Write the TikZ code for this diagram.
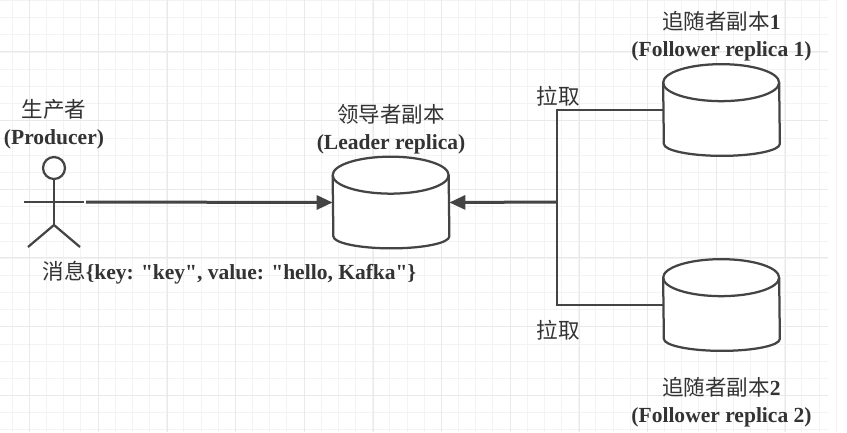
\documentclass[tikz,border=0pt]{standalone}
\usepackage{fontspec}
\setmainfont[Ligatures=TeXOff]{Liberation Serif}
\newfontfamily\cjk{Noto Sans CJK SC}
\usetikzlibrary{arrows.meta}
\definecolor{inkgray}{HTML}{444444}
\definecolor{gridminor}{HTML}{F3F3F3}
\definecolor{gridmajor}{HTML}{E9E9E9}
\tikzset{
	replica/.style={rectangle, minimum width=23.2mm, minimum height=18.2mm, inner sep=0pt},
	drum/.style={draw=inkgray, line width=0.45mm},
	caption/.style={align=center, inner sep=0pt, font=\fontsize{12.25}{15.4}\selectfont, text=black!80},
	actorline/.style={inkgray, line width=0.45mm},
	link/.style={inkgray, line width=0.45mm},
	push/.style={inkgray, line width=0.6mm, -{Triangle[length=3.2mm,width=2.8mm]}},
}
\begin{document}
\begin{tikzpicture}[x=0.2mm,y=-0.2mm]
	\useasboundingbox (0,0) rectangle (847,432);
	\fill[white] (0,0) rectangle (847,432);

%% Grid
	\foreach \i in {0,...,48}
		\draw[gridminor] ({12+17.17*\i},0)--({12+17.17*\i},432);
	\foreach \i in {0,...,25}
		\draw[gridminor] (0,{0.5+17.17*\i})--(828,{0.5+17.17*\i});
	\foreach \i in {0,...,11}
		\draw[gridmajor] ({29.5+68.7*\i},0)--({29.5+68.7*\i},432);
	\foreach \i in {0,...,6}
		\draw[gridmajor] (0,{51.5+68.7*\i})--(828,{51.5+68.7*\i});

%% Replicas
	\node[replica] (leader) at (391,202.5) {};
	\node[replica] (follower1) at (721.5,110) {};
	\node[replica] (follower2) at (721.5,305) {};
	\foreach \name in {leader,follower1,follower2} {
		\draw[drum, fill=white] ([yshift=-3.7mm]\name.north west)
			arc[start angle=180, end angle=0, x radius=11.6mm, y radius=3.7mm]
			-- ([yshift=2.4mm]\name.south east)
			arc[start angle=360, end angle=180, x radius=11.6mm, y radius=2.4mm]
			-- cycle;
		\draw[drum] ([yshift=-3.7mm]\name.north west)
			arc[start angle=180, end angle=360, x radius=11.6mm, y radius=3.7mm];
	}

%% Producer
	\node[draw=inkgray, circle, line width=0.45mm, minimum size=4.4mm, inner sep=0pt] (head) at (54,168) {};
	\coordinate (hip) at (54,225);
	\coordinate (armleft) at (24,202);
	\coordinate (armright) at (84,202);
	\coordinate (footleft) at (28,247);
	\coordinate (footright) at (80,247);
	\coordinate (hand) at (86,202);
	\draw[actorline] (head.south)--(hip);
	\draw[actorline] (armleft)--(armright);
	\draw[actorline] (footleft)--(hip)--(footright);

%% Labels
	\node[caption] (producer) at (54,124) {{\cjk 生产者}\\\textbf{(Producer)}};
	\node[caption] (leadername) at (391,129) {{\cjk 领导者副本}\\\textbf{(Leader replica)}};
	\node[caption] (follower1name) at (721.5,36) {{\cjk 追随者副本}\textbf{1}\\\textbf{(Follower replica 1)}};
	\node[caption] (follower2name) at (721.5,402) {{\cjk 追随者副本}\textbf{2}\\\textbf{(Follower replica 2)}};
	\node[caption] (message) at (229.5,273) {{\cjk 消息}\textbf{\{key: "key", value: "hello, Kafka"\}}};
	\node[caption] (pull1) at (558.5,96) {\cjk 拉取};
	\node[caption] (pull2) at (558.5,330) {\cjk 拉取};

%% Lines
	\coordinate (junction) at (557,202);
	\draw[push] (hand)--(leader.west);
	\draw[link] (follower1.west)-|(junction)|-(follower2.west);
	\draw[push] (junction)--(leader.east);
\end{tikzpicture}
\end{document}
